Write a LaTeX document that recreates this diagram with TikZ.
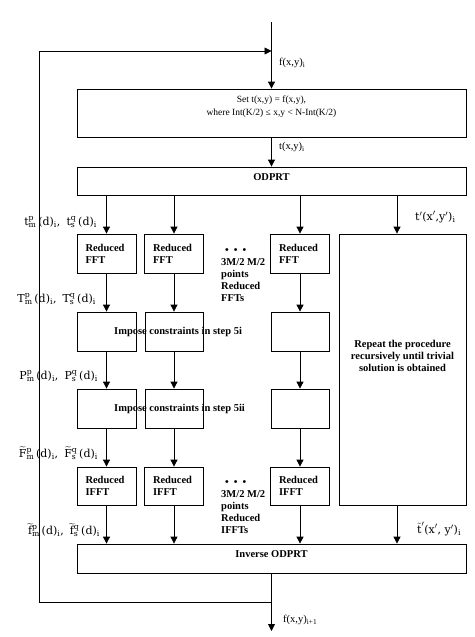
\documentclass[tikz,border=0pt]{standalone}
\usepackage{amsmath}
\usepackage{fontspec}
\setmainfont{Liberation Serif}
\newfontfamily\labfont{DejaVu Serif}
\usetikzlibrary{arrows.meta}
\newcommand\tsub[3]{\text{#1}^{\text{#2}}_{\text{#3}}}
\newcommand\di{\,\text{(d)}_{\text{i}}}
\newcommand\sep{\text{,}\;\;}
\begin{document}
\begin{tikzpicture}[x=1pt,y=-1pt,
  box/.style={draw, line width=0.8pt, inner sep=0pt},
  bt/.style={font=\bfseries\fontsize{10.5}{12}\selectfont},
  fftbox/.style={box, bt, minimum height=39pt, text width=42pt, inner xsep=8.5pt, align=left},
  arr/.style={line width=0.8pt, -{Triangle[width=7pt,length=7pt]}},
  ln/.style={line width=0.8pt},
  lab/.style={font=\labfont\fontsize{11}{12}\selectfont, inner sep=0pt, anchor=east},
  rlab/.style={font=\fontsize{10.5}{12}\selectfont, inner sep=0pt, anchor=west},
  dots/.style={bt, inner sep=0pt, anchor=north west, align=left}
]
\useasboundingbox (0,0) rectangle (474,637);
% main boxes
\node[box, minimum width=389pt, minimum height=48pt] (set) at (271.5,113) {};
\node[inner sep=0pt, align=center, font=\fontsize{9.5}{13}\selectfont] (settext) at (271.5,106.5) {Set t(x,y) = f(x,y),\\ where Int(K/2) ≤ x,y < N-Int(K/2)};
\node[box, minimum width=389pt, minimum height=28pt] (odprt) at (271.5,181) {};
\node[bt, inner sep=0pt] (odprttext) at (271.5,177) {ODPRT};
% FFT row
\node[fftbox, minimum width=59pt] (f1) at (106.5,253.5) {Reduced\\FFT};
\node[fftbox, minimum width=58pt] (f2) at (174,253.5) {Reduced\\FFT};
\node[fftbox, minimum width=58pt] (f3) at (300,253.5) {Reduced\\FFT};
\node[box, minimum width=127pt, minimum height=271pt] (big) at (402.5,369.5) {};
\node[bt, align=center, inner sep=0pt] (bigtext) at (402.5,356) {Repeat the procedure\\recursively until trivial\\solution is obtained};
% constraint rows
\node[box, minimum width=59pt, minimum height=39pt] (a1) at (106.5,331.5) {};
\node[box, minimum width=58pt, minimum height=39pt] (a2) at (174,331.5) {};
\node[box, minimum width=58pt, minimum height=39pt] (a3) at (300,331.5) {};
\node[bt, inner sep=0pt, anchor=west] (atext) at (114,332) {Impose constraints in step 5i};
\node[box, minimum width=59pt, minimum height=39pt] (b1) at (106.5,408.5) {};
\node[box, minimum width=58pt, minimum height=39pt] (b2) at (174,408.5) {};
\node[box, minimum width=58pt, minimum height=39pt] (b3) at (300,408.5) {};
\node[bt, inner sep=0pt, anchor=west] (btext) at (114,409) {Impose constraints in step 5ii};
% IFFT row
\node[fftbox, minimum width=59pt, minimum height=38pt] (i1) at (106.5,486) {Reduced\\IFFT};
\node[fftbox, minimum width=58pt, minimum height=38pt] (i2) at (174,486) {Reduced\\IFFT};
\node[fftbox, minimum width=58pt, minimum height=38pt] (i3) at (300,486) {Reduced\\IFFT};
% inverse
\node[box, minimum width=389pt, minimum height=29pt] (inv) at (271.5,558.5) {};
\node[bt, inner sep=0pt] (invtext) at (271.5,554.5) {Inverse ODPRT};
% dots
\node[dots] (d1) at (221,248) {\hspace{4pt}\textbullet\hspace{5pt}\textbullet\hspace{5pt}\textbullet\\3M/2 M/2\\points\\Reduced\\FFTs};
\node[dots] (d2) at (221,480) {\hspace{4pt}\textbullet\hspace{5pt}\textbullet\hspace{5pt}\textbullet\\3M/2 M/2\\points\\Reduced\\IFFTs};
% coordinates
\coordinate (top) at (271.5,22);
\coordinate (ftr) at (271.5,51);
\coordinate (ftl) at (39,51);
\coordinate (fbl) at (39,602);
\coordinate (fbr) at (271.5,602);
\coordinate (out) at (271.5,631);
\coordinate (bx) at (397,0);
% connectors
\draw[arr] (top) -- (set.north);
\draw[arr] (fbr) -- (fbl) -- (ftl) -- (ftr);
\draw[arr] (set.south) -- (odprt.north);
\foreach \c in {1,2,3}{
  \draw[arr] (odprt.south -| f\c.north) -- (f\c.north);
  \draw[arr] (f\c.south) -- (a\c.north);
  \draw[arr] (a\c.south) -- (b\c.north);
  \draw[arr] (b\c.south) -- (i\c.north);
  \draw[arr] (i\c.south) -- (inv.north -| i\c.south);
}
\draw[arr] (odprt.south -| bx) -- (big.north -| bx);
\draw[arr] (big.south -| bx) -- (inv.north -| bx);
\draw[arr] (inv.south) -- (out);
% labels
\node[rlab] (l1) at (279,63) {f(x,y)\textsubscript{i}};
\node[rlab] (l2) at (279,147) {t(x,y)\textsubscript{i}};
\node[rlab] (l3) at (283,620) {f(x,y)\textsubscript{i+1}};
\node[lab] (l4) at (97,222) {$\tsub{t}{p}{m}\di\sep\tsub{t}{q}{s}\di$};
\node[lab] (l5) at (96,299) {$\tsub{T}{p}{m}\di\sep\tsub{T}{q}{s}\di$};
\node[lab] (l6) at (98,376) {$\tsub{P}{p}{m}\di\sep\tsub{P}{q}{s}\di$};
\node[lab] (l7) at (98,453) {$\widetilde{\text{F}}{}^{\text{p}}_{\text{m}}\di\sep\widetilde{\text{F}}{}^{\text{q}}_{\text{s}}\di$};
\node[lab] (l8) at (100,530) {$\widetilde{\text{f}}{}^{\text{p}}_{\text{m}}\di\sep\widetilde{\text{f}}{}^{\text{q}}_{\text{s}}\di$};
\node[lab, anchor=west] (l9) at (415,217) {$\text{t}'\text{(x}'\text{,y}'\text{)}_{\text{i}}$};
\node[lab, anchor=west] (l10) at (417,529) {$\tilde{\text{t}}'\text{(x}'\text{, y}'\text{)}_{\text{i}}$};
\end{tikzpicture}
\end{document}
